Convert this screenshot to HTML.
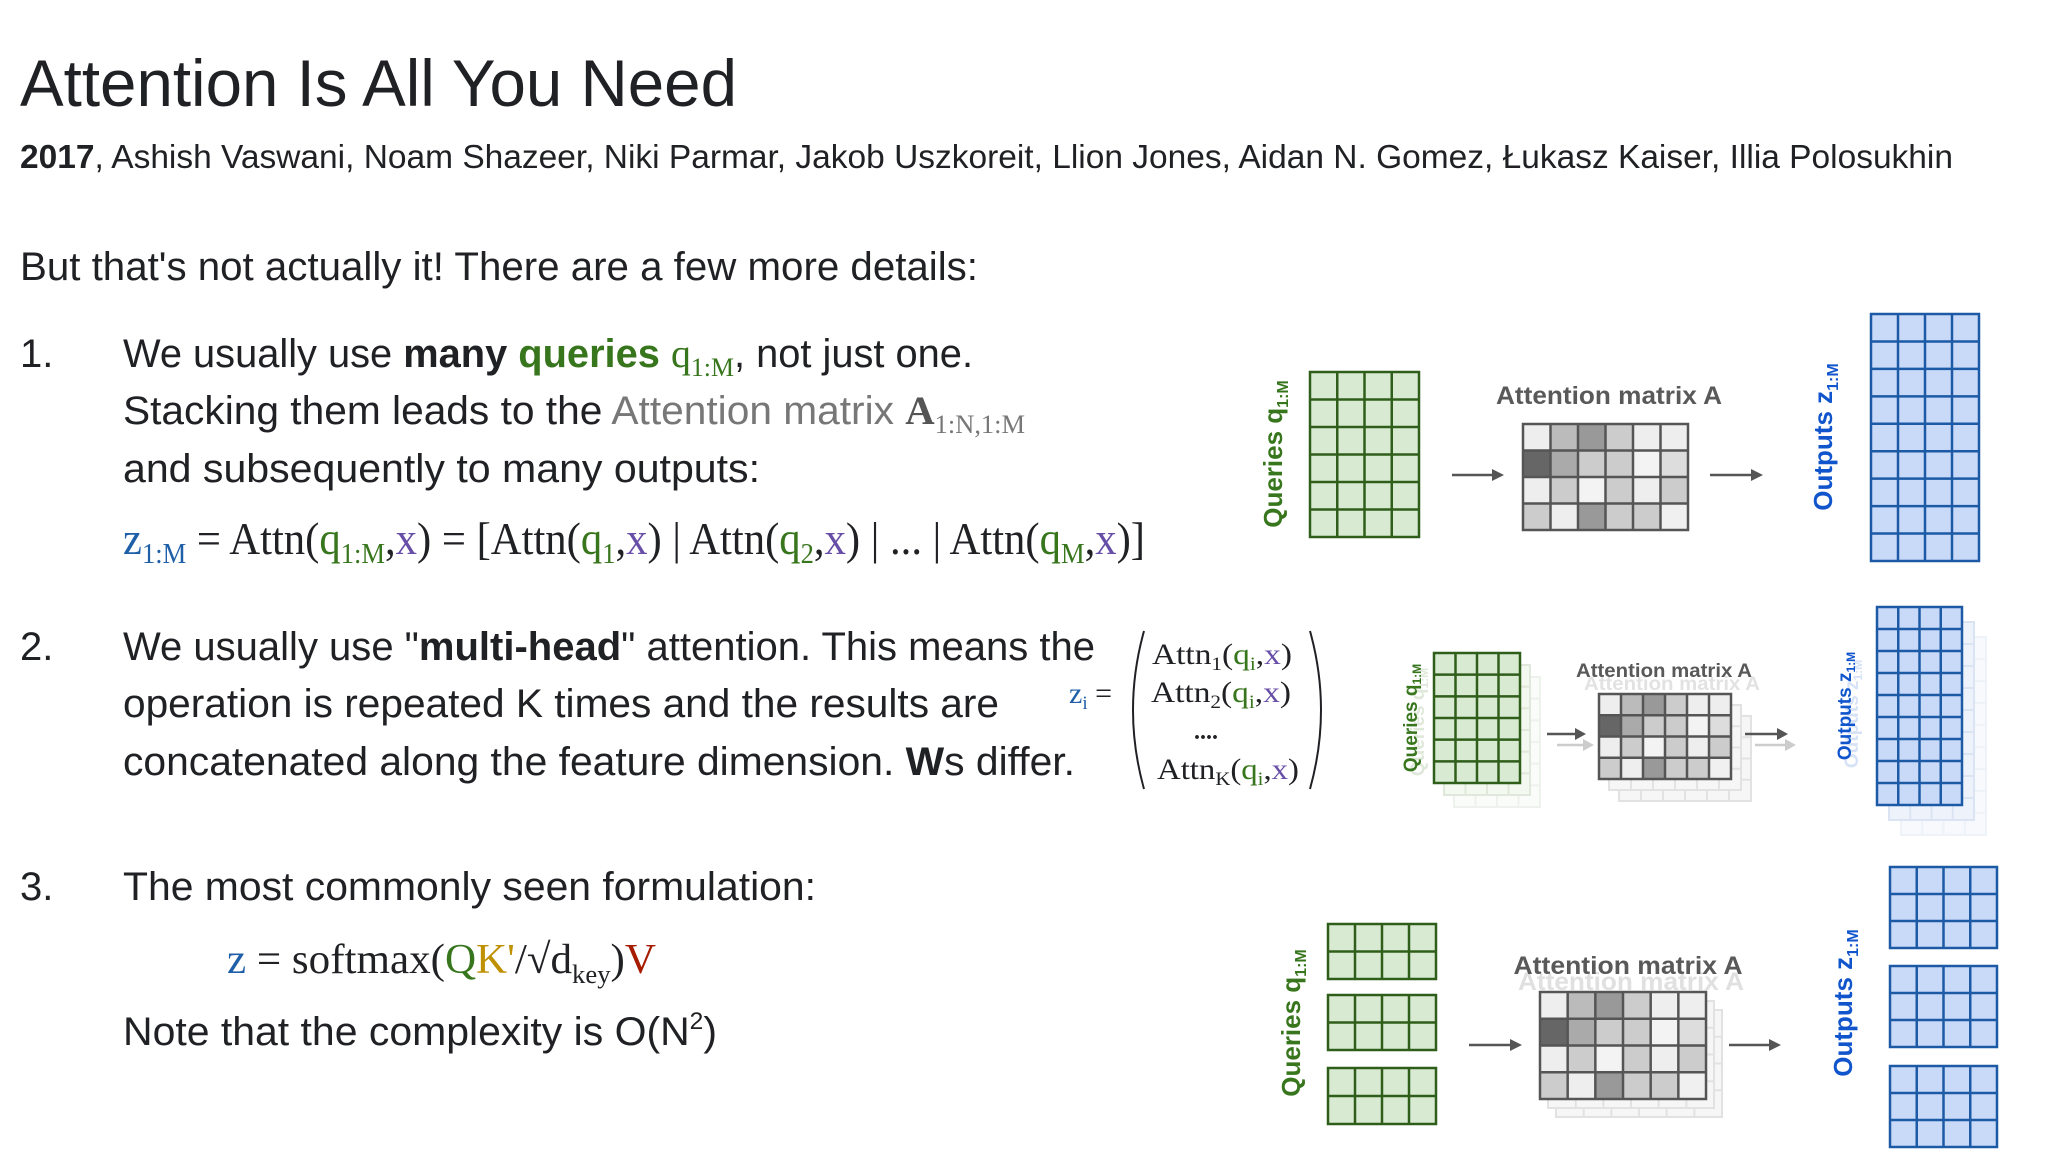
<!DOCTYPE html>
<html><head><meta charset="utf-8"><style>
html,body{margin:0;padding:0;background:#fff;}
svg{display:block}
.s{font-family:"Liberation Sans",sans-serif;}
.r{font-family:"Liberation Serif",serif;}
.ns{vector-effect:non-scaling-stroke}
</style></head><body>
<svg width="2048" height="1152" viewBox="0 0 2048 1152" xmlns="http://www.w3.org/2000/svg">
<defs>
<g id="g46"><rect class="ns" x="0" y="0" width="4" height="6"/><path class="ns" fill="none" d="M1 0V6M2 0V6M3 0V6M0 1H4M0 2H4M0 3H4M0 4H4M0 5H4"/></g>
<g id="g49"><rect class="ns" x="0" y="0" width="4" height="9"/><path class="ns" fill="none" d="M1 0V9M2 0V9M3 0V9M0 1H4M0 2H4M0 3H4M0 4H4M0 5H4M0 6H4M0 7H4M0 8H4"/></g>
<g id="g42"><rect class="ns" x="0" y="0" width="4" height="2"/><path class="ns" fill="none" d="M1 0V2M2 0V2M3 0V2M0 1H4"/></g>
<g id="g43"><rect class="ns" x="0" y="0" width="4" height="3"/><path class="ns" fill="none" d="M1 0V3M2 0V3M3 0V3M0 1H4M0 2H4"/></g>
<g id="att">
<rect x="0" y="0" width="1" height="1" fill="#eeeeee"/><rect x="1" y="0" width="1" height="1" fill="#bbbbbb"/><rect x="2" y="0" width="1" height="1" fill="#999999"/><rect x="3" y="0" width="1" height="1" fill="#cccccc"/><rect x="4" y="0" width="1" height="1" fill="#eeeeee"/><rect x="5" y="0" width="1" height="1" fill="#eeeeee"/>
<rect x="0" y="1" width="1" height="1" fill="#666666"/><rect x="1" y="1" width="1" height="1" fill="#aaaaaa"/><rect x="2" y="1" width="1" height="1" fill="#cccccc"/><rect x="3" y="1" width="1" height="1" fill="#cccccc"/><rect x="4" y="1" width="1" height="1" fill="#f3f3f3"/><rect x="5" y="1" width="1" height="1" fill="#dddddd"/>
<rect x="0" y="2" width="1" height="1" fill="#eeeeee"/><rect x="1" y="2" width="1" height="1" fill="#cccccc"/><rect x="2" y="2" width="1" height="1" fill="#f3f3f3"/><rect x="3" y="2" width="1" height="1" fill="#cccccc"/><rect x="4" y="2" width="1" height="1" fill="#eeeeee"/><rect x="5" y="2" width="1" height="1" fill="#cccccc"/>
<rect x="0" y="3" width="1" height="1" fill="#cccccc"/><rect x="1" y="3" width="1" height="1" fill="#eeeeee"/><rect x="2" y="3" width="1" height="1" fill="#999999"/><rect x="3" y="3" width="1" height="1" fill="#cccccc"/><rect x="4" y="3" width="1" height="1" fill="#cccccc"/><rect x="5" y="3" width="1" height="1" fill="#f0f0f0"/>
<path class="ns" fill="none" stroke="#555" stroke-width="2.5" d="M0 0H6V4H0ZM1 0V4M2 0V4M3 0V4M4 0V4M5 0V4M0 1H6M0 2H6M0 3H6"/>
</g>
<g id="attf"><rect class="ns" x="0" y="0" width="6" height="4" fill="#f6f6f6"/><path class="ns" fill="none" stroke="#e2e2e2" stroke-width="2" d="M1 0V4M2 0V4M3 0V4M4 0V4M5 0V4M0 1H6M0 2H6M0 3H6M0 0H6V4H0Z"/></g>
</defs>

<!-- Header -->
<text class="s" x="20" y="106" font-size="66" fill="#202124" textLength="717" lengthAdjust="spacingAndGlyphs">Attention Is All You Need</text>
<text class="s" x="20" y="168" font-size="33" fill="#202124" textLength="1933" lengthAdjust="spacingAndGlyphs"><tspan font-weight="bold">2017</tspan>, Ashish Vaswani, Noam Shazeer, Niki Parmar, Jakob Uszkoreit, Llion Jones, Aidan N. Gomez, Łukasz Kaiser, Illia Polosukhin</text>
<text class="s" x="20" y="280" font-size="40" fill="#202124" textLength="958" lengthAdjust="spacingAndGlyphs">But that's not actually it! There are a few more details:</text>

<!-- Item 1 -->
<text class="s" x="20" y="367" font-size="40" fill="#202124">1.</text>
<text class="s" x="123" y="367" font-size="40" fill="#202124" textLength="850" lengthAdjust="spacingAndGlyphs">We usually use <tspan font-weight="bold">many</tspan> <tspan font-weight="bold" fill="#38761d">queries</tspan> <tspan class="r" fill="#38761d">q</tspan><tspan class="r" fill="#38761d" font-size="26" dy="9">1:M</tspan><tspan dy="-9">, not just one.</tspan></text>
<text class="s" x="123" y="424" font-size="40" fill="#202124" textLength="902" lengthAdjust="spacingAndGlyphs">Stacking them leads to the <tspan fill="#777">Attention matrix</tspan> <tspan class="r" font-weight="bold" fill="#555">A</tspan><tspan class="r" fill="#777" font-size="26" dy="9">1:N,1:M</tspan></text>
<text class="s" x="123" y="482" font-size="40" fill="#202124" textLength="637" lengthAdjust="spacingAndGlyphs">and subsequently to many outputs:</text>
<text class="r" x="123" y="554" font-size="45" fill="#202124" textLength="1022" lengthAdjust="spacingAndGlyphs"><tspan fill="#1f5fa8">z</tspan><tspan fill="#1f5fa8" font-size="28" dy="9">1:M</tspan><tspan dy="-9"> = Attn(</tspan><tspan fill="#38761d">q</tspan><tspan fill="#38761d" font-size="28" dy="9">1:M</tspan><tspan dy="-9">,</tspan><tspan fill="#674ea7">x</tspan>) = [Attn(<tspan fill="#38761d">q</tspan><tspan fill="#38761d" font-size="28" dy="9">1</tspan><tspan dy="-9">,</tspan><tspan fill="#674ea7">x</tspan>) | Attn(<tspan fill="#38761d">q</tspan><tspan fill="#38761d" font-size="28" dy="9">2</tspan><tspan dy="-9">,</tspan><tspan fill="#674ea7">x</tspan>) | ... | Attn(<tspan fill="#38761d">q</tspan><tspan fill="#38761d" font-size="28" dy="9">M</tspan><tspan dy="-9">,</tspan><tspan fill="#674ea7">x</tspan>)]</text>

<!-- Item 2 -->
<text class="s" x="20" y="660" font-size="40" fill="#202124">2.</text>
<text class="s" x="123" y="660" font-size="40" fill="#202124" textLength="972" lengthAdjust="spacingAndGlyphs">We usually use "<tspan font-weight="bold">multi-head</tspan>" attention. This means the</text>
<text class="s" x="123" y="717" font-size="40" fill="#202124" textLength="876" lengthAdjust="spacingAndGlyphs">operation is repeated K times and the results are</text>
<text class="s" x="123" y="775" font-size="40" fill="#202124" textLength="952" lengthAdjust="spacingAndGlyphs">concatenated along the feature dimension. <tspan font-weight="bold">W</tspan>s differ.</text>

<text class="r" x="1069" y="703" font-size="30" fill="#1f5fa8">z<tspan font-size="19" dy="6">i</tspan><tspan fill="#202124" dy="-6"> =</tspan></text>
<path d="M1144 631 Q1122 710 1144 789" fill="none" stroke="#202124" stroke-width="2"/>
<path d="M1310 631 Q1332 710 1310 789" fill="none" stroke="#202124" stroke-width="2"/>
<text class="r" x="1152" y="664" font-size="30" fill="#202124" textLength="140" lengthAdjust="spacingAndGlyphs">Attn<tspan font-size="19" dy="6">1</tspan><tspan dy="-6">(</tspan><tspan fill="#38761d">q</tspan><tspan fill="#38761d" font-size="19" dy="6">i</tspan><tspan dy="-6">,</tspan><tspan fill="#674ea7">x</tspan>)</text>
<text class="r" x="1151" y="702" font-size="30" fill="#202124" textLength="140" lengthAdjust="spacingAndGlyphs">Attn<tspan font-size="19" dy="6">2</tspan><tspan dy="-6">(</tspan><tspan fill="#38761d">q</tspan><tspan fill="#38761d" font-size="19" dy="6">i</tspan><tspan dy="-6">,</tspan><tspan fill="#674ea7">x</tspan>)</text>
<text class="r" x="1194" y="739" font-size="24" fill="#202124" font-weight="bold">....</text>
<text class="r" x="1157" y="779" font-size="30" fill="#202124" textLength="142" lengthAdjust="spacingAndGlyphs">Attn<tspan font-size="19" dy="6">K</tspan><tspan dy="-6">(</tspan><tspan fill="#38761d">q</tspan><tspan fill="#38761d" font-size="19" dy="6">i</tspan><tspan dy="-6">,</tspan><tspan fill="#674ea7">x</tspan>)</text>

<!-- Item 3 -->
<text class="s" x="20" y="900" font-size="40" fill="#202124">3.</text>
<text class="s" x="123" y="900" font-size="40" fill="#202124" textLength="693" lengthAdjust="spacingAndGlyphs">The most commonly seen formulation:</text>
<text class="r" x="227" y="973" font-size="42" fill="#202124" textLength="429" lengthAdjust="spacingAndGlyphs"><tspan fill="#1f5fa8">z</tspan> = softmax(<tspan fill="#38761d">Q</tspan><tspan fill="#bf9000">K'</tspan>/√d<tspan font-size="26" dy="10">key</tspan><tspan dy="-10">)</tspan><tspan fill="#a61c00">V</tspan></text>
<text class="s" x="123" y="1045" font-size="40" fill="#202124" textLength="594" lengthAdjust="spacingAndGlyphs">Note that the complexity is O(N<tspan font-size="24" dy="-16">2</tspan><tspan dy="16">)</tspan></text>

<!-- Diagram row 1 -->
<use href="#g46" transform="translate(1310,372) scale(27.25,27.5)" fill="#d9ead3" stroke="#2f5e1a" stroke-width="2.5"/>
<text class="s" transform="translate(1282,454) rotate(-90)" text-anchor="middle" font-size="26" font-weight="bold" fill="#38761d">Queries q<tspan font-size="16" dy="6">1:M</tspan></text>
<text class="s" x="1609" y="404" text-anchor="middle" font-size="25" font-weight="bold" fill="#595959" textLength="226" lengthAdjust="spacingAndGlyphs">Attention matrix A</text>
<use href="#att" transform="translate(1523,424) scale(27.5,26.5)"/>
<g stroke="#555" stroke-width="2.5" fill="#555">
<line x1="1452" y1="475" x2="1494" y2="475"/><polygon points="1504,475 1492,469 1492,481" stroke="none"/>
<line x1="1710" y1="475" x2="1753" y2="475"/><polygon points="1763,475 1751,469 1751,481" stroke="none"/>
</g>
<use href="#g49" transform="translate(1871,314) scale(27,27.44)" fill="#c9daf8" stroke="#1c5aa6" stroke-width="2.5"/>
<text class="s" transform="translate(1832,437) rotate(-90)" text-anchor="middle" font-size="26" font-weight="bold" fill="#1155cc">Outputs z<tspan font-size="16" dy="6">1:M</tspan></text>

<!-- Diagram row 2 -->
<use href="#g46" transform="translate(1454,677) scale(21.5,21.67)" fill="#fafcf9" stroke="#eef2ec" stroke-width="2"/>
<use href="#g46" transform="translate(1444,665) scale(21.5,21.67)" fill="#f3f8f1" stroke="#dfe8da" stroke-width="2"/>
<use href="#g46" transform="translate(1434,653) scale(21.5,21.67)" fill="#d9ead3" stroke="#2f5e1a" stroke-width="2.5"/>
<text class="s" transform="translate(1424,722) rotate(-90)" text-anchor="middle" font-size="19" font-weight="bold" fill="#dfe8da">Queries q<tspan font-size="12" dy="4">1:M</tspan></text>
<text class="s" transform="translate(1417,718) rotate(-90)" text-anchor="middle" font-size="19" font-weight="bold" fill="#38761d">Queries q<tspan font-size="12" dy="4">1:M</tspan></text>
<text class="s" x="1672" y="690" text-anchor="middle" font-size="19" font-weight="bold" fill="#e2e2e2" textLength="176" lengthAdjust="spacingAndGlyphs">Attention matrix A</text>
<text class="s" x="1664" y="677" text-anchor="middle" font-size="19" font-weight="bold" fill="#595959" textLength="176" lengthAdjust="spacingAndGlyphs">Attention matrix A</text>
<use href="#attf" transform="translate(1619,716) scale(22,21.25)"/>
<use href="#attf" transform="translate(1609,705) scale(22,21.25)"/>
<use href="#att" transform="translate(1599,694) scale(22,21.25)"/>
<g stroke="#555" stroke-width="2.5" fill="#555">
<line x1="1547" y1="734" x2="1577" y2="734"/><polygon points="1586,734 1575,728 1575,740" stroke="none"/>
<line x1="1745" y1="734" x2="1779" y2="734"/><polygon points="1788,734 1777,728 1777,740" stroke="none"/>
</g>
<g stroke="#ccc" stroke-width="2.5" fill="#ccc">
<line x1="1557" y1="745" x2="1585" y2="745"/><polygon points="1594,745 1583,739 1583,751" stroke="none"/>
<line x1="1755" y1="745" x2="1787" y2="745"/><polygon points="1796,745 1785,739 1785,751" stroke="none"/>
</g>
<use href="#g49" transform="translate(1901,637) scale(21.25,22)" fill="#f7f9fd" stroke="#eef2f9" stroke-width="2"/>
<use href="#g49" transform="translate(1889,622) scale(21.25,22)" fill="#eef3fb" stroke="#dbe4f3" stroke-width="2"/>
<use href="#g49" transform="translate(1877,607) scale(21.25,22)" fill="#c9daf8" stroke="#1c5aa6" stroke-width="2.5"/>
<text class="s" transform="translate(1858,714) rotate(-90)" text-anchor="middle" font-size="19" font-weight="bold" fill="#d6e2f6">Outputs z<tspan font-size="12" dy="4">1:M</tspan></text>
<text class="s" transform="translate(1851,706) rotate(-90)" text-anchor="middle" font-size="19" font-weight="bold" fill="#1155cc">Outputs z<tspan font-size="12" dy="4">1:M</tspan></text>

<!-- Diagram row 3 -->
<use href="#g42" transform="translate(1328,924) scale(27,27.5)" fill="#d9ead3" stroke="#2f5e1a" stroke-width="2.5"/>
<use href="#g42" transform="translate(1328,995) scale(27,27.5)" fill="#d9ead3" stroke="#2f5e1a" stroke-width="2.5"/>
<use href="#g42" transform="translate(1328,1068) scale(27,28)" fill="#d9ead3" stroke="#2f5e1a" stroke-width="2.5"/>
<text class="s" transform="translate(1300,1023) rotate(-90)" text-anchor="middle" font-size="26" font-weight="bold" fill="#38761d">Queries q<tspan font-size="16" dy="6">1:M</tspan></text>
<text class="s" x="1631" y="990" text-anchor="middle" font-size="25" font-weight="bold" fill="#e0e0e0" textLength="226" lengthAdjust="spacingAndGlyphs">Attention matrix A</text>
<text class="s" x="1628" y="974" text-anchor="middle" font-size="25" font-weight="bold" fill="#595959" textLength="229" lengthAdjust="spacingAndGlyphs">Attention matrix A</text>
<use href="#attf" transform="translate(1556,1010) scale(27.67,26.75)"/>
<use href="#attf" transform="translate(1548,1001) scale(27.67,26.75)"/>
<use href="#att" transform="translate(1540,992) scale(27.67,26.75)"/>
<g stroke="#555" stroke-width="2.5" fill="#555">
<line x1="1469" y1="1045" x2="1512" y2="1045"/><polygon points="1522,1045 1510,1039 1510,1051" stroke="none"/>
<line x1="1729" y1="1045" x2="1771" y2="1045"/><polygon points="1781,1045 1769,1039 1769,1051" stroke="none"/>
</g>
<use href="#g43" transform="translate(1890,867) scale(26.75,27)" fill="#c9daf8" stroke="#1c5aa6" stroke-width="2.5"/>
<use href="#g43" transform="translate(1890,966) scale(26.75,27)" fill="#c9daf8" stroke="#1c5aa6" stroke-width="2.5"/>
<use href="#g43" transform="translate(1890,1066) scale(26.75,27)" fill="#c9daf8" stroke="#1c5aa6" stroke-width="2.5"/>
<text class="s" transform="translate(1852,1003) rotate(-90)" text-anchor="middle" font-size="26" font-weight="bold" fill="#1155cc">Outputs z<tspan font-size="16" dy="6">1:M</tspan></text>
</svg>
</body></html>
